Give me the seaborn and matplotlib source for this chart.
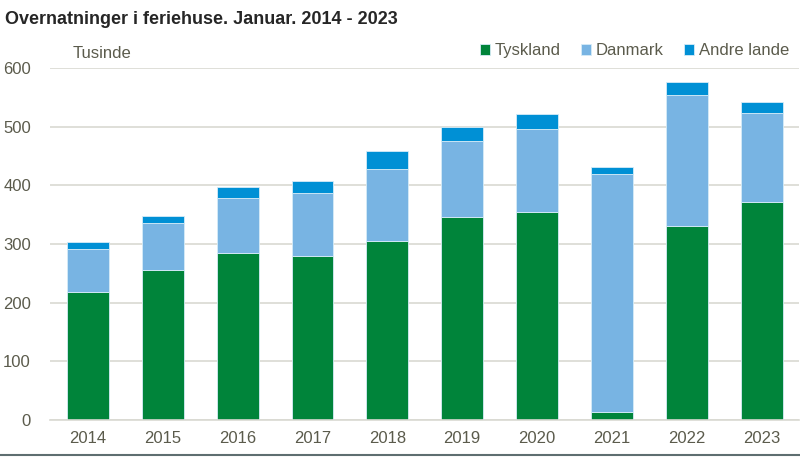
import numpy as np
import pandas as pd
import matplotlib.pyplot as plt
import seaborn as sns

years = ["2014", "2015", "2016", "2017", "2018", "2019", "2020", "2021", "2022", "2023"]
tyskland = [219, 256, 284, 280, 306, 346, 354, 13, 331, 372]
danmark = [73, 80, 95, 108, 122, 130, 142, 407, 224, 151]
andre = [12, 12, 18, 19, 30, 23, 26, 12, 22, 20]

series = ["Tyskland", "Danmark", "Andre lande"]
colors = ["#00843a", "#78b4e3", "#0090d5"]

sns.set_style("white")
plt.rcParams["font.family"] = ["Liberation Sans Narrow", "Liberation Sans", "DejaVu Sans"]

df = pd.DataFrame({"year": years, "Tyskland": tyskland, "Danmark": danmark, "Andre lande": andre})

fig = plt.figure(figsize=(8, 4.58), dpi=100)
ax = fig.add_axes([0.063, 0.083, 0.936, 0.768])

bottom = np.zeros(len(years))
for name, col in zip(series, colors):
    sns.barplot(data=df, x="year", y=name, bottom=bottom, color=col, width=0.56,
                saturation=1, edgecolor="#d6ecf8", linewidth=0.6, label=name, ax=ax)
    bottom = bottom + df[name].to_numpy()

ax.set_ylim(0, 600)
ax.set_xlim(-0.5, 9.5)
ax.set_yticks(range(0, 601, 100))
ax.yaxis.grid(True, color="#d9d9d2", linewidth=1.2)
ax.set_axisbelow(True)
for s in ["top", "right", "left"]:
    ax.spines[s].set_visible(False)
ax.spines["bottom"].set_color("#d9d9d2")
ax.spines["bottom"].set_linewidth(1.2)
ax.set_xlabel("")
ax.set_ylabel("")
ax.tick_params(axis="both", length=0, labelsize=12, colors="#5b5b4c", pad=8)
ax.tick_params(axis="y", pad=14)

ax.text(0.03, 1.02, "Tusinde", transform=ax.transAxes, fontsize=12, color="#5b5b4c", va="bottom")

ax.legend(loc="lower right", bbox_to_anchor=(1.0, 1.0), ncol=3, frameon=False, fontsize=12,
          handlelength=0.6, handleheight=0.6, handletextpad=0.3, columnspacing=1.2,
          labelcolor="#5b5b4c", borderaxespad=0.2)

fig.text(0.006, 0.975, "Overnatninger i feriehuse. Januar. 2014 - 2023", fontsize=13,
         fontweight="bold", family=["Liberation Sans", "DejaVu Sans"], va="top", ha="left")
fig.add_artist(plt.Line2D([0, 1], [0.006, 0.006], transform=fig.transFigure,
                          color="#5e6e70", linewidth=1.5))

fig.savefig("out.png", dpi=100)
